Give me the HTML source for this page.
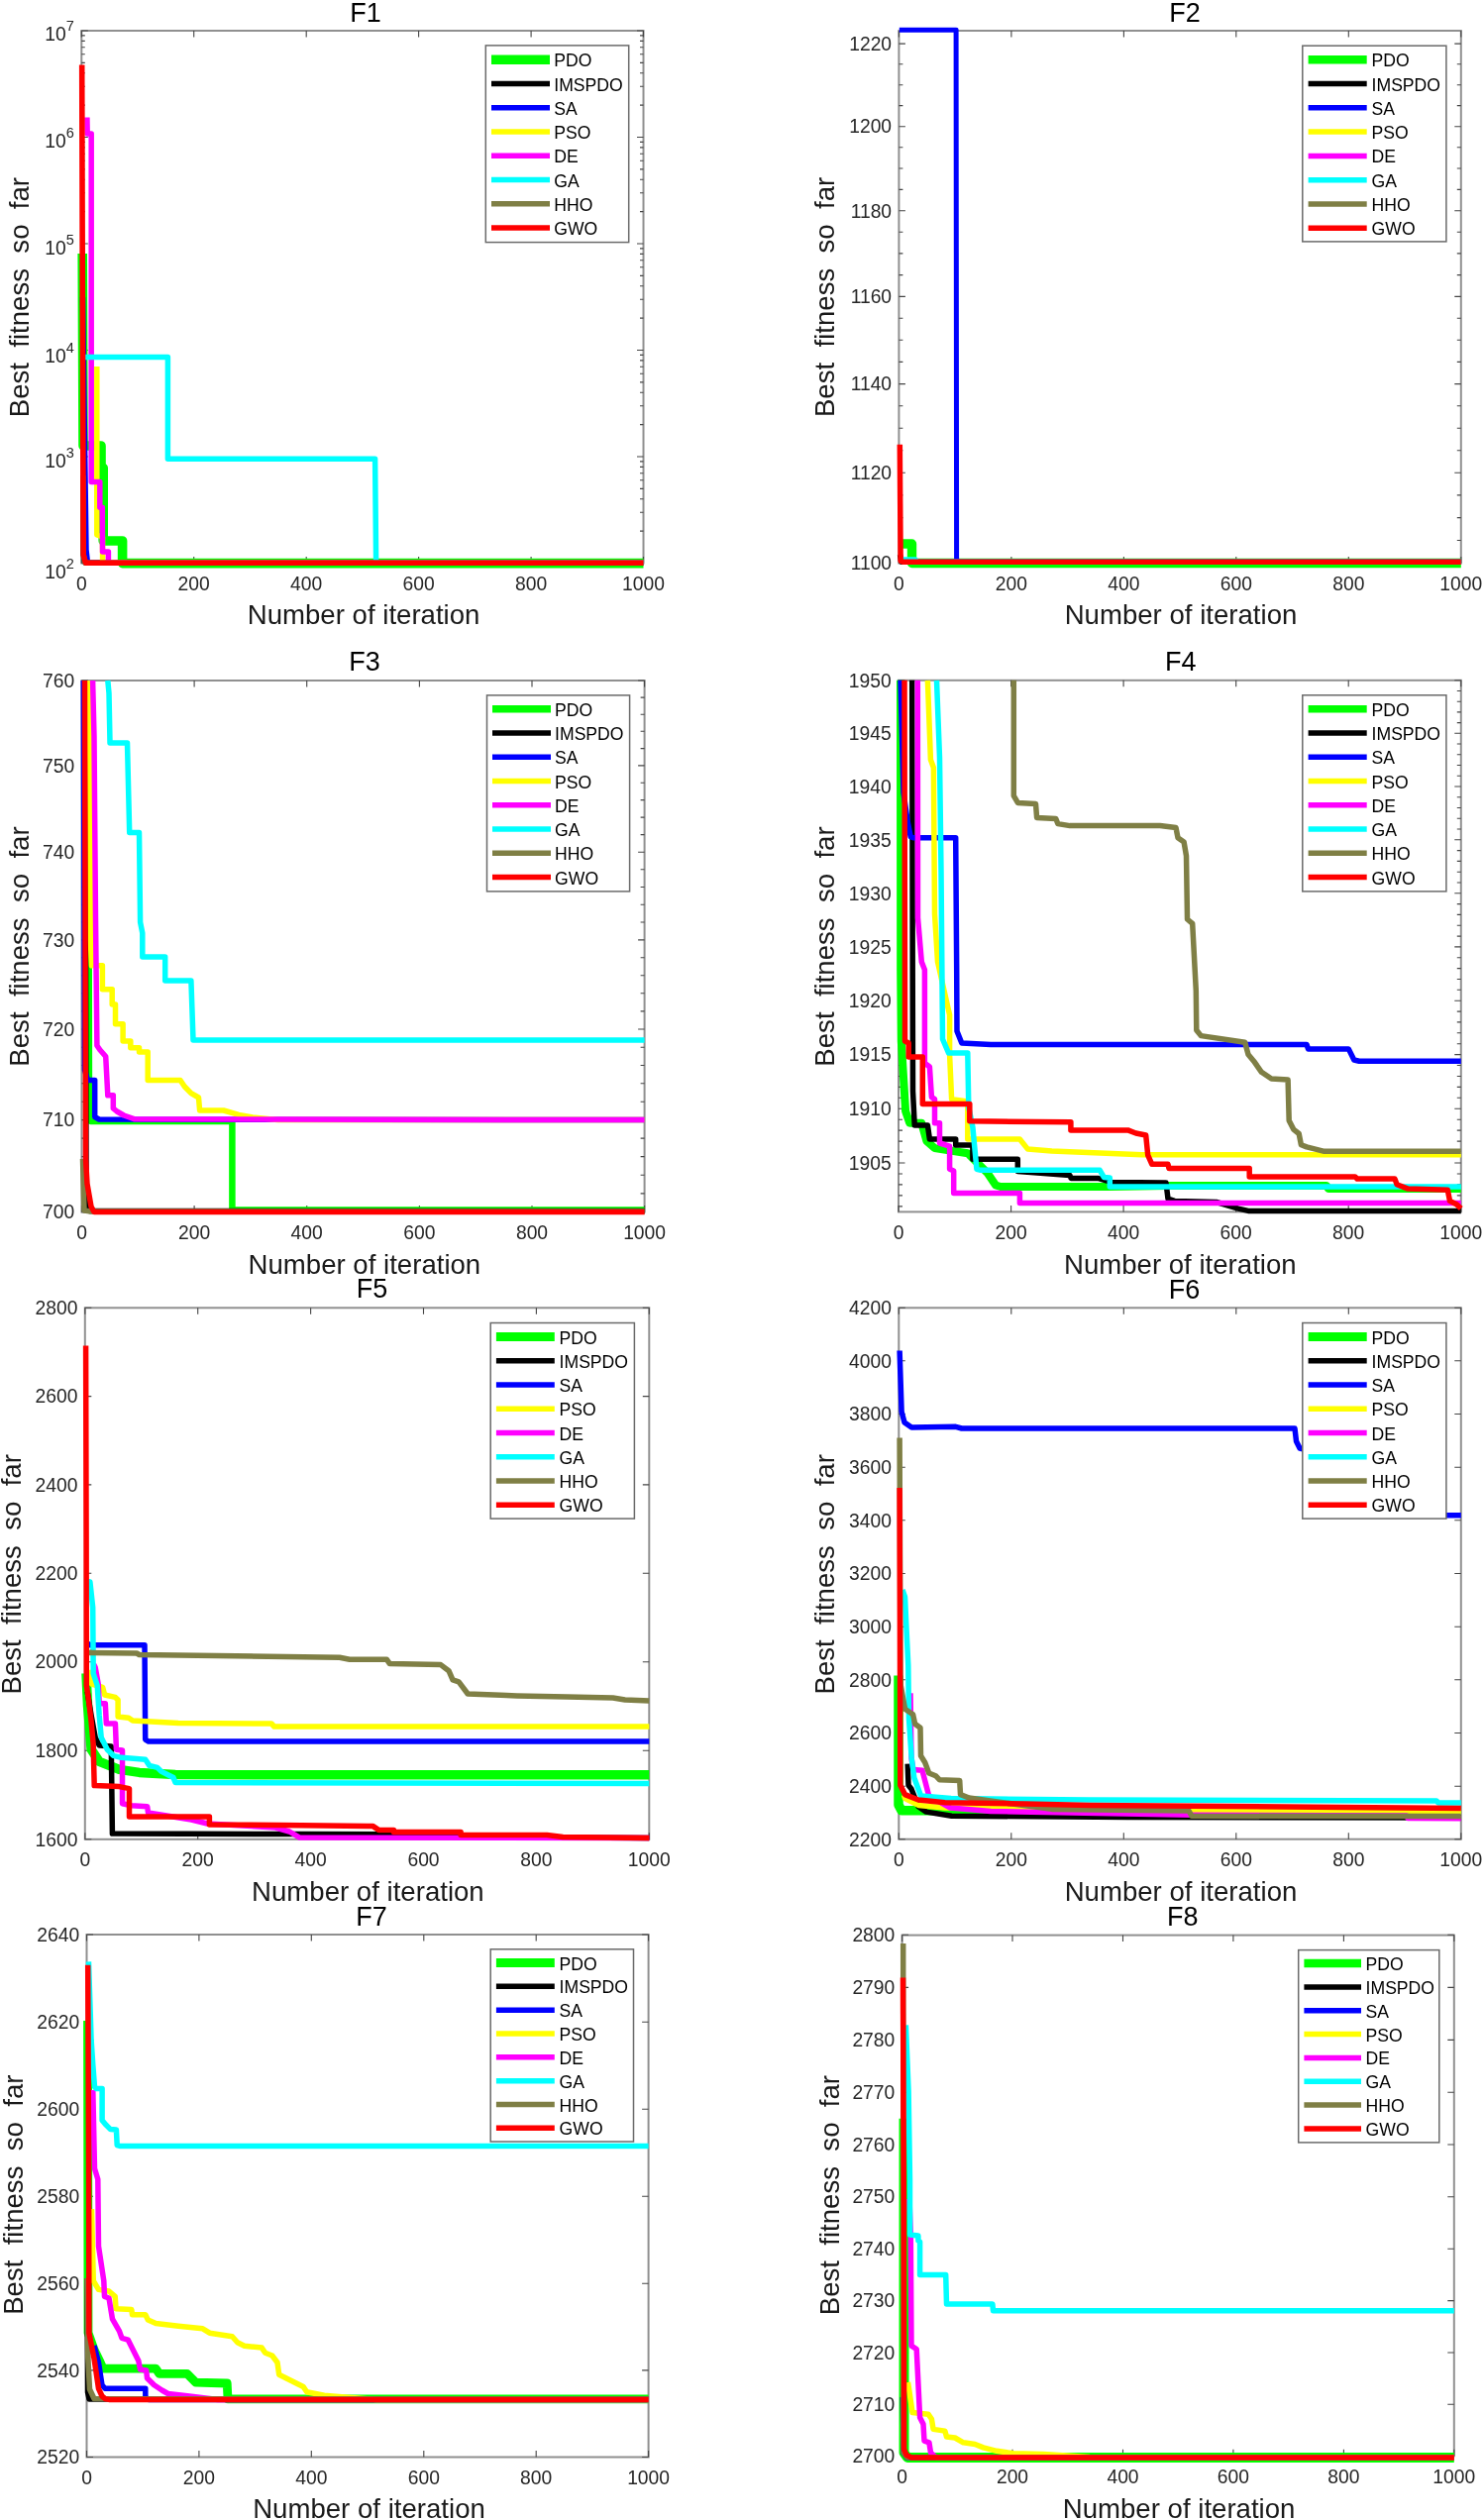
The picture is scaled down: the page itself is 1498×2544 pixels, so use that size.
<!DOCTYPE html>
<html><head><meta charset="utf-8"><title>Convergence curves</title>
<style>
html,body{margin:0;padding:0;background:#fff;width:1498px;height:2544px;overflow:hidden}
svg{display:block;filter:blur(0.4px)}
text{font-family:"Liberation Sans",sans-serif}
.tk{font-size:19.3px;fill:#262626}
.sup{font-size:14.5px}
.lg{font-size:17.6px;fill:#000}
.ti{font-size:27px;fill:#000}
.lb{font-size:27.6px;fill:#1a1a1a}
</style></head><body>
<svg xmlns="http://www.w3.org/2000/svg" width="1498" height="2544" viewBox="0 0 1498 2544">
<rect width="1498" height="2544" fill="#fff"/>
<g><rect x="82.3" y="31" width="567.2" height="537.5" fill="none" stroke="#909090" stroke-width="2"/>
<path d="M82.3 568.5v-6.5M82.3 31v6.5M195.7 568.5v-6.5M195.7 31v6.5M309.2 568.5v-6.5M309.2 31v6.5M422.6 568.5v-6.5M422.6 31v6.5M536.1 568.5v-6.5M536.1 31v6.5M649.5 568.5v-6.5M649.5 31v6.5M82.3 568.5h6.5M649.5 568.5h-6.5M82.3 536.1h3.5M649.5 536.1h-3.5M82.3 517.2h3.5M649.5 517.2h-3.5M82.3 503.8h3.5M649.5 503.8h-3.5M82.3 493.4h3.5M649.5 493.4h-3.5M82.3 484.8h3.5M649.5 484.8h-3.5M82.3 477.7h3.5M649.5 477.7h-3.5M82.3 471.4h3.5M649.5 471.4h-3.5M82.3 465.9h3.5M649.5 465.9h-3.5M82.3 461h6.5M649.5 461h-6.5M82.3 428.6h3.5M649.5 428.6h-3.5M82.3 409.7h3.5M649.5 409.7h-3.5M82.3 396.3h3.5M649.5 396.3h-3.5M82.3 385.9h3.5M649.5 385.9h-3.5M82.3 377.3h3.5M649.5 377.3h-3.5M82.3 370.2h3.5M649.5 370.2h-3.5M82.3 363.9h3.5M649.5 363.9h-3.5M82.3 358.4h3.5M649.5 358.4h-3.5M82.3 353.5h6.5M649.5 353.5h-6.5M82.3 321.1h3.5M649.5 321.1h-3.5M82.3 302.2h3.5M649.5 302.2h-3.5M82.3 288.8h3.5M649.5 288.8h-3.5M82.3 278.4h3.5M649.5 278.4h-3.5M82.3 269.8h3.5M649.5 269.8h-3.5M82.3 262.7h3.5M649.5 262.7h-3.5M82.3 256.4h3.5M649.5 256.4h-3.5M82.3 250.9h3.5M649.5 250.9h-3.5M82.3 246h6.5M649.5 246h-6.5M82.3 213.6h3.5M649.5 213.6h-3.5M82.3 194.7h3.5M649.5 194.7h-3.5M82.3 181.3h3.5M649.5 181.3h-3.5M82.3 170.9h3.5M649.5 170.9h-3.5M82.3 162.3h3.5M649.5 162.3h-3.5M82.3 155.2h3.5M649.5 155.2h-3.5M82.3 148.9h3.5M649.5 148.9h-3.5M82.3 143.4h3.5M649.5 143.4h-3.5M82.3 138.5h6.5M649.5 138.5h-6.5M82.3 106.1h3.5M649.5 106.1h-3.5M82.3 87.2h3.5M649.5 87.2h-3.5M82.3 73.8h3.5M649.5 73.8h-3.5M82.3 63.4h3.5M649.5 63.4h-3.5M82.3 54.8h3.5M649.5 54.8h-3.5M82.3 47.7h3.5M649.5 47.7h-3.5M82.3 41.4h3.5M649.5 41.4h-3.5M82.3 35.9h3.5M649.5 35.9h-3.5M82.3 31h6.5M649.5 31h-6.5" stroke="#454545" stroke-width="1.1" fill="none"/>
<path d="M83.2 256 84 450 102 450 102 472.3 104.2 472.3 104.2 546 123.6 546 123.6 568.6 649.5 568.6" stroke="#00ff00" stroke-width="9.6" fill="none" stroke-linejoin="round"/>
<path d="M83.8 480 84.2 560 86 568.2 649.5 568.2" stroke="#000000" stroke-width="5.5" fill="none" stroke-linejoin="round"/>
<path d="M83.5 300 87 555 88.5 568.2 649.5 568.2" stroke="#0000ff" stroke-width="5.5" fill="none" stroke-linejoin="round"/>
<path d="M97.8 370 97.8 540 103.5 542 103.6 568 649.5 568.2" stroke="#ffff00" stroke-width="5.5" fill="none" stroke-linejoin="round"/>
<path d="M87.9 118.5 88.2 135 92.2 135 92.2 486.4 100.8 486.4 100.8 512.3 103.3 512.3 103.5 557.1 109.4 557.1 109.4 568.3 649.5 568.3" stroke="#ff00ff" stroke-width="5.5" fill="none" stroke-linejoin="round"/>
<path d="M86 360.6 169.4 360.6 169.4 463.3 378.6 463.3 379.6 566 381 568.2 649.5 568.2" stroke="#00ffff" stroke-width="5.5" fill="none" stroke-linejoin="round"/>
<path d="M83.8 480 84.2 560 86 568.2 649.5 568.2" stroke="#7f7f45" stroke-width="5.5" fill="none" stroke-linejoin="round"/>
<path d="M82.7 65.4 83.3 300 84.2 560 86.5 568.2 649.5 568.2" stroke="#ff0000" stroke-width="5.6" fill="none" stroke-linejoin="round"/>
<rect x="490.3" y="45.9" width="144.4" height="198.7" fill="#fff" stroke="#6a6a6a" stroke-width="1.5"/>
<path d="M496 60.2H555" stroke="#00ff00" stroke-width="9.5"/>
<text x="559.3" y="67.2" class="lg">PDO</text>
<path d="M496 84.5H555" stroke="#000000" stroke-width="5.5"/>
<text x="559.3" y="91.5" class="lg">IMSPDO</text>
<path d="M496 108.7H555" stroke="#0000ff" stroke-width="5.5"/>
<text x="559.3" y="115.7" class="lg">SA</text>
<path d="M496 133H555" stroke="#ffff00" stroke-width="5.5"/>
<text x="559.3" y="140" class="lg">PSO</text>
<path d="M496 157.3H555" stroke="#ff00ff" stroke-width="5.5"/>
<text x="559.3" y="164.3" class="lg">DE</text>
<path d="M496 181.6H555" stroke="#00ffff" stroke-width="5.5"/>
<text x="559.3" y="188.6" class="lg">GA</text>
<path d="M496 205.8H555" stroke="#7f7f45" stroke-width="5.5"/>
<text x="559.3" y="212.8" class="lg">HHO</text>
<path d="M496 230.1H555" stroke="#ff0000" stroke-width="5.5"/>
<text x="559.3" y="237.1" class="lg">GWO</text>
<text x="82.3" y="595.8" class="tk" text-anchor="middle">0</text>
<text x="195.7" y="595.8" class="tk" text-anchor="middle">200</text>
<text x="309.2" y="595.8" class="tk" text-anchor="middle">400</text>
<text x="422.6" y="595.8" class="tk" text-anchor="middle">600</text>
<text x="536.1" y="595.8" class="tk" text-anchor="middle">800</text>
<text x="649.5" y="595.8" class="tk" text-anchor="middle">1000</text>
<text x="74.8" y="584.1" class="tk" text-anchor="end">10<tspan class="sup" dy="-10">2</tspan></text>
<text x="74.8" y="471.6" class="tk" text-anchor="end">10<tspan class="sup" dy="-10">3</tspan></text>
<text x="74.8" y="366" class="tk" text-anchor="end">10<tspan class="sup" dy="-10">4</tspan></text>
<text x="74.8" y="256.7" class="tk" text-anchor="end">10<tspan class="sup" dy="-10">5</tspan></text>
<text x="74.8" y="149" class="tk" text-anchor="end">10<tspan class="sup" dy="-10">6</tspan></text>
<text x="74.8" y="40.7" class="tk" text-anchor="end">10<tspan class="sup" dy="-10">7</tspan></text>
<text x="369" y="21.5" class="ti" text-anchor="middle">F1</text>
<text x="367.1" y="630" class="lb" text-anchor="middle">Number of iteration</text>
<text transform="translate(19.7 300.1) rotate(-90)" x="0" y="0" class="lb" text-anchor="middle" dy="9.5">Best&#160; fitness&#160; so&#160; far</text></g>
<g><rect x="907.4" y="31" width="567.4" height="537.5" fill="none" stroke="#909090" stroke-width="2"/>
<path d="M907.4 568.5v-6.5M907.4 31v6.5M1020.9 568.5v-6.5M1020.9 31v6.5M1134.4 568.5v-6.5M1134.4 31v6.5M1247.8 568.5v-6.5M1247.8 31v6.5M1361.3 568.5v-6.5M1361.3 31v6.5M1474.8 568.5v-6.5M1474.8 31v6.5M907.4 568.4h6.5M1474.8 568.4h-6.5M907.4 477.2h6.5M1474.8 477.2h-6.5M907.4 387.6h6.5M1474.8 387.6h-6.5M907.4 299.4h6.5M1474.8 299.4h-6.5M907.4 212.8h6.5M1474.8 212.8h-6.5M907.4 127.7h6.5M1474.8 127.7h-6.5M907.4 44.1h6.5M1474.8 44.1h-6.5M907.4 545.5h4M1474.8 545.5h-4M907.4 522.6h4M1474.8 522.6h-4M907.4 499.9h4M1474.8 499.9h-4M907.4 454.7h4M1474.8 454.7h-4M907.4 432.2h4M1474.8 432.2h-4M907.4 409.8h4M1474.8 409.8h-4M907.4 365.4h4M1474.8 365.4h-4M907.4 343.3h4M1474.8 343.3h-4M907.4 321.3h4M1474.8 321.3h-4M907.4 277.6h4M1474.8 277.6h-4M907.4 255.9h4M1474.8 255.9h-4M907.4 234.3h4M1474.8 234.3h-4M907.4 191.4h4M1474.8 191.4h-4M907.4 170h4M1474.8 170h-4M907.4 148.8h4M1474.8 148.8h-4M907.4 106.6h4M1474.8 106.6h-4M907.4 85.7h4M1474.8 85.7h-4M907.4 64.8h4M1474.8 64.8h-4" stroke="#454545" stroke-width="1.1" fill="none"/>
<path d="M909 549 920.5 549 920.5 568.5 1474.8 568.5" stroke="#00ff00" stroke-width="9.4" fill="none" stroke-linejoin="round"/>
<path d="M908.5 560 910 567.3 1474.8 567.3" stroke="#000000" stroke-width="5.5" fill="none" stroke-linejoin="round"/>
<path d="M907.8 30.2 965.1 30.2 965.6 564 967 567.3 1474.8 567.3" stroke="#0000ff" stroke-width="5.0" fill="none" stroke-linejoin="round"/>
<path d="M910 565 924 565 926 567.3 1474.8 567.3" stroke="#00ffff" stroke-width="5.5" fill="none" stroke-linejoin="round"/>
<path d="M908.3 448.7 909.1 566.3 912 567.3 1474.8 567.3" stroke="#ff0000" stroke-width="5.5" fill="none" stroke-linejoin="round"/>
<rect x="1314.8" y="46.2" width="145.1" height="197.7" fill="#fff" stroke="#6a6a6a" stroke-width="1.5"/>
<path d="M1320.6 60.2H1379.7" stroke="#00ff00" stroke-width="8.5"/>
<text x="1384.6" y="67.2" class="lg">PDO</text>
<path d="M1320.6 84.5H1379.7" stroke="#000000" stroke-width="5.5"/>
<text x="1384.6" y="91.5" class="lg">IMSPDO</text>
<path d="M1320.6 108.8H1379.7" stroke="#0000ff" stroke-width="5.5"/>
<text x="1384.6" y="115.8" class="lg">SA</text>
<path d="M1320.6 133.1H1379.7" stroke="#ffff00" stroke-width="5.5"/>
<text x="1384.6" y="140.1" class="lg">PSO</text>
<path d="M1320.6 157.4H1379.7" stroke="#ff00ff" stroke-width="5.5"/>
<text x="1384.6" y="164.4" class="lg">DE</text>
<path d="M1320.6 181.7H1379.7" stroke="#00ffff" stroke-width="5.5"/>
<text x="1384.6" y="188.7" class="lg">GA</text>
<path d="M1320.6 206H1379.7" stroke="#7f7f45" stroke-width="5.5"/>
<text x="1384.6" y="213" class="lg">HHO</text>
<path d="M1320.6 230.3H1379.7" stroke="#ff0000" stroke-width="5.5"/>
<text x="1384.6" y="237.3" class="lg">GWO</text>
<text x="907.4" y="595.8" class="tk" text-anchor="middle">0</text>
<text x="1020.9" y="595.8" class="tk" text-anchor="middle">200</text>
<text x="1134.4" y="595.8" class="tk" text-anchor="middle">400</text>
<text x="1247.8" y="595.8" class="tk" text-anchor="middle">600</text>
<text x="1361.3" y="595.8" class="tk" text-anchor="middle">800</text>
<text x="1474.8" y="595.8" class="tk" text-anchor="middle">1000</text>
<text x="900.1" y="575.1" class="tk" text-anchor="end">1100</text>
<text x="900.1" y="483.9" class="tk" text-anchor="end">1120</text>
<text x="900.1" y="394.3" class="tk" text-anchor="end">1140</text>
<text x="900.1" y="306.1" class="tk" text-anchor="end">1160</text>
<text x="900.1" y="219.5" class="tk" text-anchor="end">1180</text>
<text x="900.1" y="134.4" class="tk" text-anchor="end">1200</text>
<text x="900.1" y="50.8" class="tk" text-anchor="end">1220</text>
<text x="1196" y="21.5" class="ti" text-anchor="middle">F2</text>
<text x="1192" y="629.9" class="lb" text-anchor="middle">Number of iteration</text>
<text transform="translate(832.8 299.9) rotate(-90)" x="0" y="0" class="lb" text-anchor="middle" dy="9.5">Best&#160; fitness&#160; so&#160; far</text></g>
<g><rect x="82.5" y="687" width="568.1" height="536.6" fill="none" stroke="#909090" stroke-width="2"/>
<path d="M82.5 1223.6v-6.5M82.5 687v6.5M196.1 1223.6v-6.5M196.1 687v6.5M309.7 1223.6v-6.5M309.7 687v6.5M423.4 1223.6v-6.5M423.4 687v6.5M537 1223.6v-6.5M537 687v6.5M650.6 1223.6v-6.5M650.6 687v6.5M82.5 1223.6h6.5M650.6 1223.6h-6.5M82.5 1130.6h6.5M650.6 1130.6h-6.5M82.5 1039h6.5M650.6 1039h-6.5M82.5 948.9h6.5M650.6 948.9h-6.5M82.5 860.2h6.5M650.6 860.2h-6.5M82.5 772.9h6.5M650.6 772.9h-6.5M82.5 687h6.5M650.6 687h-6.5M82.5 1204.9h4M650.6 1204.9h-4M82.5 1186.2h4M650.6 1186.2h-4M82.5 1167.6h4M650.6 1167.6h-4M82.5 1149.1h4M650.6 1149.1h-4M82.5 1112.2h4M650.6 1112.2h-4M82.5 1093.8h4M650.6 1093.8h-4M82.5 1075.5h4M650.6 1075.5h-4M82.5 1057.2h4M650.6 1057.2h-4M82.5 1020.9h4M650.6 1020.9h-4M82.5 1002.8h4M650.6 1002.8h-4M82.5 984.8h4M650.6 984.8h-4M82.5 966.8h4M650.6 966.8h-4M82.5 931h4M650.6 931h-4M82.5 913.2h4M650.6 913.2h-4M82.5 895.5h4M650.6 895.5h-4M82.5 877.8h4M650.6 877.8h-4M82.5 842.6h4M650.6 842.6h-4M82.5 825.1h4M650.6 825.1h-4M82.5 807.6h4M650.6 807.6h-4M82.5 790.2h4M650.6 790.2h-4M82.5 755.6h4M650.6 755.6h-4M82.5 738.3h4M650.6 738.3h-4M82.5 721.2h4M650.6 721.2h-4M82.5 704.1h4M650.6 704.1h-4" stroke="#454545" stroke-width="1.1" fill="none"/>
<path d="M89.2 687 90 1130 91.4 1132 234.4 1132 234.4 1221.5 650.6 1221.5" stroke="#00ff00" stroke-width="6.5" fill="none" stroke-linejoin="round"/>
<path d="M86 687 87 1200 90 1222.5 650.6 1222.5" stroke="#000000" stroke-width="5.5" fill="none" stroke-linejoin="round"/>
<path d="M84.3 687 85.5 1080 88.5 1090.5 95.7 1090.5 95.7 1127.6 100 1130 650.6 1130.6" stroke="#0000ff" stroke-width="5.5" fill="none" stroke-linejoin="round"/>
<path d="M90.5 687 91.4 950 92.5 974.8 103.4 974.8 103.4 998.8 113.2 998.8 113.2 1014 116.5 1014 116.5 1033.7 124.1 1033.7 124.1 1051 131.8 1051 131.8 1057.7 140.5 1057.7 140.5 1062 149.2 1062 149.2 1090.5 182 1090.5 186.4 1097 192.9 1103.6 200.5 1108 201.6 1121 225.7 1121 241 1125.4 255 1128 280 1130.6 650.6 1130.6" stroke="#ffff00" stroke-width="5.5" fill="none" stroke-linejoin="round"/>
<path d="M93.6 687 95 743.3 96.5 926.7 97.9 1055.5 101 1060 106.7 1066.5 108.8 1105.8 114.3 1105.8 114.3 1118.9 118 1122 125 1126 136.1 1129.8 650.6 1130.6" stroke="#ff00ff" stroke-width="5.5" fill="none" stroke-linejoin="round"/>
<path d="M108.8 687 110 699.7 111 749.9 128.5 749.9 130.7 840.5 140.5 840.5 141.6 931 143.8 942 143.8 966 166.7 966 166.7 990 192.9 990 195 1049.9 650.6 1049.9" stroke="#00ffff" stroke-width="5.5" fill="none" stroke-linejoin="round"/>
<path d="M83.5 1170 85 1222 92 1223 650.6 1223" stroke="#7f7f45" stroke-width="5.5" fill="none" stroke-linejoin="round"/>
<path d="M85.5 687 86.5 1170 88 1195 92 1218 95 1223.5 650.6 1223.5" stroke="#ff0000" stroke-width="5.5" fill="none" stroke-linejoin="round"/>
<rect x="491.5" y="701.9" width="144.1" height="198" fill="#fff" stroke="#6a6a6a" stroke-width="1.5"/>
<path d="M497 715.8H556" stroke="#00ff00" stroke-width="7.5"/>
<text x="560.1" y="722.8" class="lg">PDO</text>
<path d="M497 740H556" stroke="#000000" stroke-width="5.5"/>
<text x="560.1" y="747" class="lg">IMSPDO</text>
<path d="M497 764.3H556" stroke="#0000ff" stroke-width="5.5"/>
<text x="560.1" y="771.3" class="lg">SA</text>
<path d="M497 788.5H556" stroke="#ffff00" stroke-width="5.5"/>
<text x="560.1" y="795.5" class="lg">PSO</text>
<path d="M497 812.8H556" stroke="#ff00ff" stroke-width="5.5"/>
<text x="560.1" y="819.8" class="lg">DE</text>
<path d="M497 837H556" stroke="#00ffff" stroke-width="5.5"/>
<text x="560.1" y="844" class="lg">GA</text>
<path d="M497 861.2H556" stroke="#7f7f45" stroke-width="5.5"/>
<text x="560.1" y="868.2" class="lg">HHO</text>
<path d="M497 885.5H556" stroke="#ff0000" stroke-width="5.5"/>
<text x="560.1" y="892.5" class="lg">GWO</text>
<text x="82.5" y="1250.9" class="tk" text-anchor="middle">0</text>
<text x="196.1" y="1250.9" class="tk" text-anchor="middle">200</text>
<text x="309.7" y="1250.9" class="tk" text-anchor="middle">400</text>
<text x="423.4" y="1250.9" class="tk" text-anchor="middle">600</text>
<text x="537" y="1250.9" class="tk" text-anchor="middle">800</text>
<text x="650.6" y="1250.9" class="tk" text-anchor="middle">1000</text>
<text x="75.2" y="1230.3" class="tk" text-anchor="end">700</text>
<text x="75.2" y="1137.3" class="tk" text-anchor="end">710</text>
<text x="75.2" y="1045.7" class="tk" text-anchor="end">720</text>
<text x="75.2" y="955.6" class="tk" text-anchor="end">730</text>
<text x="75.2" y="866.9" class="tk" text-anchor="end">740</text>
<text x="75.2" y="779.6" class="tk" text-anchor="end">750</text>
<text x="75.2" y="693.7" class="tk" text-anchor="end">760</text>
<text x="368.1" y="677.3" class="ti" text-anchor="middle">F3</text>
<text x="367.9" y="1286.4" class="lb" text-anchor="middle">Number of iteration</text>
<text transform="translate(19.9 955.5) rotate(-90)" x="0" y="0" class="lb" text-anchor="middle" dy="9.5">Best&#160; fitness&#160; so&#160; far</text></g>
<g><rect x="907" y="686.8" width="567.8" height="536.6" fill="none" stroke="#909090" stroke-width="2"/>
<path d="M907 1223.4v-6.5M907 686.8v6.5M1020.6 1223.4v-6.5M1020.6 686.8v6.5M1134.1 1223.4v-6.5M1134.1 686.8v6.5M1247.7 1223.4v-6.5M1247.7 686.8v6.5M1361.2 1223.4v-6.5M1361.2 686.8v6.5M1474.8 1223.4v-6.5M1474.8 686.8v6.5M907 1174h6.5M1474.8 1174h-6.5M907 1119.2h6.5M1474.8 1119.2h-6.5M907 1064.6h6.5M1474.8 1064.6h-6.5M907 1010.2h6.5M1474.8 1010.2h-6.5M907 955.9h6.5M1474.8 955.9h-6.5M907 901.8h6.5M1474.8 901.8h-6.5M907 847.8h6.5M1474.8 847.8h-6.5M907 794h6.5M1474.8 794h-6.5M907 740.3h6.5M1474.8 740.3h-6.5M907 686.8h6.5M1474.8 686.8h-6.5M907 1217.9h4M1474.8 1217.9h-4M907 1206.9h4M1474.8 1206.9h-4M907 1195.9h4M1474.8 1195.9h-4M907 1185h4M1474.8 1185h-4M907 1163h4M1474.8 1163h-4M907 1152.1h4M1474.8 1152.1h-4M907 1141.1h4M1474.8 1141.1h-4M907 1130.2h4M1474.8 1130.2h-4M907 1108.3h4M1474.8 1108.3h-4M907 1097.4h4M1474.8 1097.4h-4M907 1086.5h4M1474.8 1086.5h-4M907 1075.5h4M1474.8 1075.5h-4M907 1053.7h4M1474.8 1053.7h-4M907 1042.8h4M1474.8 1042.8h-4M907 1031.9h4M1474.8 1031.9h-4M907 1021.1h4M1474.8 1021.1h-4M907 999.3h4M1474.8 999.3h-4M907 988.5h4M1474.8 988.5h-4M907 977.6h4M1474.8 977.6h-4M907 966.7h4M1474.8 966.7h-4M907 945.1h4M1474.8 945.1h-4M907 934.2h4M1474.8 934.2h-4M907 923.4h4M1474.8 923.4h-4M907 912.6h4M1474.8 912.6h-4M907 891h4M1474.8 891h-4M907 880.2h4M1474.8 880.2h-4M907 869.4h4M1474.8 869.4h-4M907 858.6h4M1474.8 858.6h-4M907 837h4M1474.8 837h-4M907 826.2h4M1474.8 826.2h-4M907 815.5h4M1474.8 815.5h-4M907 804.7h4M1474.8 804.7h-4M907 783.2h4M1474.8 783.2h-4M907 772.5h4M1474.8 772.5h-4M907 761.8h4M1474.8 761.8h-4M907 751h4M1474.8 751h-4M907 729.6h4M1474.8 729.6h-4M907 718.9h4M1474.8 718.9h-4M907 708.2h4M1474.8 708.2h-4M907 697.5h4M1474.8 697.5h-4" stroke="#454545" stroke-width="1.1" fill="none"/>
<path d="M909 686.8 909.2 980 909.8 1051 914.1 1121.7 918.2 1133.8 930.3 1133.8 935.4 1152 943.5 1159.1 976.8 1164.2 997 1184.4 1005.1 1196.5 1010 1198 1118.3 1198 1179 1197 1339 1197 1341 1200 1474.8 1200" stroke="#00ff00" stroke-width="8.0" fill="none" stroke-linejoin="round"/>
<path d="M920.7 686.8 921.2 980 921.5 1101.5 923.2 1135.9 936.4 1135.9 938.4 1150 964.7 1150 964.7 1156 981.9 1156 981.9 1170.2 1027.3 1170.2 1027.3 1182.4 1079.9 1186.4 1081 1189.4 1108.2 1189.4 1122.4 1193.5 1177 1194 1179 1210.1 1185.6 1212.4 1227.8 1213.5 1250 1220.1 1260 1222.4 1474.8 1222.4" stroke="#000000" stroke-width="5.5" fill="none" stroke-linejoin="round"/>
<path d="M909 686.8 912 800 916.2 829.6 919.2 844.7 922 845.8 964.7 845.8 965.7 980 966 1040.9 970.8 1053 1000 1054.5 1319 1054.5 1320.5 1058.9 1361.3 1058.9 1366.8 1070 1372 1071.2 1474.8 1071.2" stroke="#0000ff" stroke-width="5.5" fill="none" stroke-linejoin="round"/>
<path d="M936.4 686.8 939.4 766.9 942.4 775 943.5 922.6 946.5 971 958.6 1024.7 958.6 1065 960.6 1109.6 976.8 1112 976.8 1150 1029.4 1150 1037.5 1160.1 1061.7 1162.1 1152.7 1165.7 1474.8 1165.7" stroke="#ffff00" stroke-width="5.5" fill="none" stroke-linejoin="round"/>
<path d="M926.3 686.8 926.5 926.6 930.3 971 933.4 979 933.4 1073.2 938.4 1077 940.4 1107.6 943.5 1109.6 943.5 1133.8 948.5 1133.8 948.5 1154 958.6 1157.1 958.6 1180.3 962.7 1182 962.7 1204.6 1029.4 1204.6 1029.4 1214.6 1474.8 1214.6" stroke="#ff00ff" stroke-width="5.5" fill="none" stroke-linejoin="round"/>
<path d="M945.5 686.8 948.5 765 950 880 951.5 1049 957.6 1063.1 976.8 1063.1 977.8 1117.7 981.9 1137.9 985.9 1180.3 990 1181.3 1110.2 1181.3 1114.3 1188.4 1120.3 1189 1120.3 1198 1474.8 1198" stroke="#00ffff" stroke-width="5.5" fill="none" stroke-linejoin="round"/>
<path d="M1023.3 686.8 1023.3 803.3 1027.4 810.4 1045.5 811.4 1046.6 825.5 1065.8 826.6 1067.8 831.6 1080 833.6 1170.9 833.6 1187 835.6 1189 845.8 1195.1 850 1197.5 864 1198.5 928 1203.7 932.4 1207.3 1000 1207.8 1040 1212.3 1045.6 1256.7 1052.3 1260 1064.5 1265.6 1071.2 1273.4 1082.3 1283.4 1089 1300.1 1090 1301.2 1131.2 1305.7 1140.1 1311.2 1144.5 1313.4 1155.7 1319 1157.9 1336.8 1162.3 1474.8 1162.3" stroke="#7f7f45" stroke-width="5.5" fill="none" stroke-linejoin="round"/>
<path d="M913 686.8 913.5 1051 917.2 1053 917.2 1067.1 931.3 1067.1 931.3 1114.6 978.8 1114.6 978.8 1131.8 1080.9 1132.8 1080.9 1140.9 1138.5 1140.9 1146.6 1144 1156.7 1146 1158.7 1166.2 1162.8 1175.3 1179 1175.3 1180 1179.6 1261.2 1179.6 1261.2 1187.9 1367.9 1187.9 1370 1190.1 1408 1190.1 1410 1195.7 1421.3 1200.1 1461.3 1201.2 1463.5 1212.4 1470.2 1215.7 1474.8 1220.1" stroke="#ff0000" stroke-width="5.5" fill="none" stroke-linejoin="round"/>
<rect x="1314.8" y="701.8" width="145.1" height="198.1" fill="#fff" stroke="#6a6a6a" stroke-width="1.5"/>
<path d="M1320.6 715.8H1379.7" stroke="#00ff00" stroke-width="7.5"/>
<text x="1384.6" y="722.8" class="lg">PDO</text>
<path d="M1320.6 740H1379.7" stroke="#000000" stroke-width="5.5"/>
<text x="1384.6" y="747" class="lg">IMSPDO</text>
<path d="M1320.6 764.3H1379.7" stroke="#0000ff" stroke-width="5.5"/>
<text x="1384.6" y="771.3" class="lg">SA</text>
<path d="M1320.6 788.5H1379.7" stroke="#ffff00" stroke-width="5.5"/>
<text x="1384.6" y="795.5" class="lg">PSO</text>
<path d="M1320.6 812.8H1379.7" stroke="#ff00ff" stroke-width="5.5"/>
<text x="1384.6" y="819.8" class="lg">DE</text>
<path d="M1320.6 837H1379.7" stroke="#00ffff" stroke-width="5.5"/>
<text x="1384.6" y="844" class="lg">GA</text>
<path d="M1320.6 861.2H1379.7" stroke="#7f7f45" stroke-width="5.5"/>
<text x="1384.6" y="868.2" class="lg">HHO</text>
<path d="M1320.6 885.5H1379.7" stroke="#ff0000" stroke-width="5.5"/>
<text x="1384.6" y="892.5" class="lg">GWO</text>
<text x="907" y="1250.7" class="tk" text-anchor="middle">0</text>
<text x="1020.6" y="1250.7" class="tk" text-anchor="middle">200</text>
<text x="1134.1" y="1250.7" class="tk" text-anchor="middle">400</text>
<text x="1247.7" y="1250.7" class="tk" text-anchor="middle">600</text>
<text x="1361.2" y="1250.7" class="tk" text-anchor="middle">800</text>
<text x="1474.8" y="1250.7" class="tk" text-anchor="middle">1000</text>
<text x="899.7" y="1180.7" class="tk" text-anchor="end">1905</text>
<text x="899.7" y="1125.9" class="tk" text-anchor="end">1910</text>
<text x="899.7" y="1071.3" class="tk" text-anchor="end">1915</text>
<text x="899.7" y="1016.9" class="tk" text-anchor="end">1920</text>
<text x="899.7" y="962.6" class="tk" text-anchor="end">1925</text>
<text x="899.7" y="908.5" class="tk" text-anchor="end">1930</text>
<text x="899.7" y="854.5" class="tk" text-anchor="end">1935</text>
<text x="899.7" y="800.7" class="tk" text-anchor="end">1940</text>
<text x="899.7" y="747" class="tk" text-anchor="end">1945</text>
<text x="899.7" y="693.5" class="tk" text-anchor="end">1950</text>
<text x="1191.7" y="677.3" class="ti" text-anchor="middle">F4</text>
<text x="1191.3" y="1285.8" class="lb" text-anchor="middle">Number of iteration</text>
<text transform="translate(832.8 955.5) rotate(-90)" x="0" y="0" class="lb" text-anchor="middle" dy="9.5">Best&#160; fitness&#160; so&#160; far</text></g>
<g><rect x="85.8" y="1320.3" width="569.5" height="536.5" fill="none" stroke="#909090" stroke-width="2"/>
<path d="M85.8 1856.8v-6.5M85.8 1320.3v6.5M199.7 1856.8v-6.5M199.7 1320.3v6.5M313.6 1856.8v-6.5M313.6 1320.3v6.5M427.5 1856.8v-6.5M427.5 1320.3v6.5M541.4 1856.8v-6.5M541.4 1320.3v6.5M655.3 1856.8v-6.5M655.3 1320.3v6.5M85.8 1856.8h6.5M655.3 1856.8h-6.5M85.8 1767.2h6.5M655.3 1767.2h-6.5M85.8 1677.7h6.5M655.3 1677.7h-6.5M85.8 1588.3h6.5M655.3 1588.3h-6.5M85.8 1498.9h6.5M655.3 1498.9h-6.5M85.8 1409.6h6.5M655.3 1409.6h-6.5M85.8 1320.3h6.5M655.3 1320.3h-6.5" stroke="#454545" stroke-width="1.1" fill="none"/>
<path d="M87 1689.4 88.5 1721.7 92.1 1766.2 100.2 1778.3 120.4 1786.4 140.6 1789.4 177 1791.6 655.3 1791.8" stroke="#00ff00" stroke-width="9.5" fill="none" stroke-linejoin="round"/>
<path d="M88.1 1707.6 92.1 1731.8 96.2 1754 100.2 1762 112.3 1763 113.4 1851.1 116 1851.1 302.4 1851.5 397 1851.8 470 1853.5 570 1855 655.3 1855.5" stroke="#000000" stroke-width="5.5" fill="none" stroke-linejoin="round"/>
<path d="M88.5 1659 90.5 1660.7 146 1660.7 146.7 1756.1 150 1758.1 655.3 1758.1" stroke="#0000ff" stroke-width="5.5" fill="none" stroke-linejoin="round"/>
<path d="M89.5 1686 92.5 1700 103.6 1703.3 105.6 1711 116.4 1713.4 119.1 1716 119.1 1733 129.9 1734.3 133.9 1737 180 1739.5 274 1740 276.8 1743 655.3 1743" stroke="#ffff00" stroke-width="5.5" fill="none" stroke-linejoin="round"/>
<path d="M94.5 1680 96.2 1683.3 99.2 1700 100.2 1719.7 106.3 1719.7 107.3 1739.9 116.4 1739.9 117.4 1766.2 123.5 1767 123.5 1820.8 132.6 1822.8 148.7 1823.8 149.5 1830 193.2 1837 209.4 1841 278.1 1845 292.2 1849 302.4 1855.1 655.3 1855.5" stroke="#ff00ff" stroke-width="5.5" fill="none" stroke-linejoin="round"/>
<path d="M88.1 1596.4 90.9 1597 93.7 1622.9 94.2 1689.4 98.2 1701.5 100.2 1731.8 102.2 1754 108.3 1766.2 114.4 1772.3 122.5 1774.3 146.7 1776.3 150.8 1782.4 158.8 1784.4 162.9 1788.4 175 1794.5 177 1799.5 655.3 1800.5" stroke="#00ffff" stroke-width="5.5" fill="none" stroke-linejoin="round"/>
<path d="M89.5 1666 90.1 1668.6 138 1669 140.6 1670.5 342.8 1673.2 352.9 1675.2 390.3 1675.2 393.4 1679.6 444.9 1680.6 453 1686.7 457 1695.8 463.1 1697.8 472.2 1710 521.7 1712 572.2 1713 618.7 1714 630.9 1716 655.3 1717" stroke="#7f7f45" stroke-width="5.5" fill="none" stroke-linejoin="round"/>
<path d="M86.6 1358.6 87.1 1560 87.3 1701.5 89.1 1713.6 92.1 1737.9 94.1 1760 95.2 1802.6 120.4 1803.6 130.5 1805.6 130.5 1833.9 211.4 1833.9 211.4 1842 282.1 1842.5 371.1 1843.4 376.2 1843.4 382.2 1847.4 397.4 1847.4 397.4 1849.4 465.1 1849.4 465.1 1852.5 552 1852.5 568.2 1854.5 655.3 1855.5" stroke="#ff0000" stroke-width="5.5" fill="none" stroke-linejoin="round"/>
<rect x="495.2" y="1335.5" width="145.2" height="197.6" fill="#fff" stroke="#6a6a6a" stroke-width="1.5"/>
<path d="M500.9 1349.5H559.8" stroke="#00ff00" stroke-width="9"/>
<text x="564.6" y="1356.5" class="lg">PDO</text>
<path d="M500.9 1373.8H559.8" stroke="#000000" stroke-width="5.5"/>
<text x="564.6" y="1380.8" class="lg">IMSPDO</text>
<path d="M500.9 1398H559.8" stroke="#0000ff" stroke-width="5.5"/>
<text x="564.6" y="1405" class="lg">SA</text>
<path d="M500.9 1422.3H559.8" stroke="#ffff00" stroke-width="5.5"/>
<text x="564.6" y="1429.3" class="lg">PSO</text>
<path d="M500.9 1446.5H559.8" stroke="#ff00ff" stroke-width="5.5"/>
<text x="564.6" y="1453.5" class="lg">DE</text>
<path d="M500.9 1470.8H559.8" stroke="#00ffff" stroke-width="5.5"/>
<text x="564.6" y="1477.8" class="lg">GA</text>
<path d="M500.9 1495.1H559.8" stroke="#7f7f45" stroke-width="5.5"/>
<text x="564.6" y="1502.1" class="lg">HHO</text>
<path d="M500.9 1519.3H559.8" stroke="#ff0000" stroke-width="5.5"/>
<text x="564.6" y="1526.3" class="lg">GWO</text>
<text x="85.8" y="1884.1" class="tk" text-anchor="middle">0</text>
<text x="199.7" y="1884.1" class="tk" text-anchor="middle">200</text>
<text x="313.6" y="1884.1" class="tk" text-anchor="middle">400</text>
<text x="427.5" y="1884.1" class="tk" text-anchor="middle">600</text>
<text x="541.4" y="1884.1" class="tk" text-anchor="middle">800</text>
<text x="655.3" y="1884.1" class="tk" text-anchor="middle">1000</text>
<text x="78.5" y="1863.5" class="tk" text-anchor="end">1600</text>
<text x="78.5" y="1773.9" class="tk" text-anchor="end">1800</text>
<text x="78.5" y="1684.4" class="tk" text-anchor="end">2000</text>
<text x="78.5" y="1595" class="tk" text-anchor="end">2200</text>
<text x="78.5" y="1505.6" class="tk" text-anchor="end">2400</text>
<text x="78.5" y="1416.3" class="tk" text-anchor="end">2600</text>
<text x="78.5" y="1327" class="tk" text-anchor="end">2800</text>
<text x="375.4" y="1310.3" class="ti" text-anchor="middle">F5</text>
<text x="371.4" y="1919" class="lb" text-anchor="middle">Number of iteration</text>
<text transform="translate(11 1589.3) rotate(-90)" x="0" y="0" class="lb" text-anchor="middle" dy="9.5">Best&#160; fitness&#160; so&#160; far</text></g>
<g><rect x="907.3" y="1320.3" width="567.5" height="536.4" fill="none" stroke="#909090" stroke-width="2"/>
<path d="M907.3 1856.7v-6.5M907.3 1320.3v6.5M1020.8 1856.7v-6.5M1020.8 1320.3v6.5M1134.3 1856.7v-6.5M1134.3 1320.3v6.5M1247.8 1856.7v-6.5M1247.8 1320.3v6.5M1361.3 1856.7v-6.5M1361.3 1320.3v6.5M1474.8 1856.7v-6.5M1474.8 1320.3v6.5M907.3 1856.8h6.5M1474.8 1856.8h-6.5M907.3 1803.2h6.5M1474.8 1803.2h-6.5M907.3 1749.5h6.5M1474.8 1749.5h-6.5M907.3 1695.8h6.5M1474.8 1695.8h-6.5M907.3 1642.2h6.5M1474.8 1642.2h-6.5M907.3 1588.5h6.5M1474.8 1588.5h-6.5M907.3 1534.8h6.5M1474.8 1534.8h-6.5M907.3 1481.2h6.5M1474.8 1481.2h-6.5M907.3 1427.5h6.5M1474.8 1427.5h-6.5M907.3 1373.8h6.5M1474.8 1373.8h-6.5M907.3 1320.2h6.5M1474.8 1320.2h-6.5" stroke="#454545" stroke-width="1.1" fill="none"/>
<path d="M907 1691.6 907 1822 910 1827.8 927 1827.8 1474.8 1829" stroke="#00ff00" stroke-width="9.5" fill="none" stroke-linejoin="round"/>
<path d="M916.2 1780.6 917 1802.2 920 1806 927 1823.7 935 1829.1 960.6 1833.2 1137 1834.5 1474.8 1835" stroke="#000000" stroke-width="5.5" fill="none" stroke-linejoin="round"/>
<path d="M908.1 1363.5 910.1 1425.1 913 1436 920.2 1441 964.7 1440.3 970.8 1442 1307 1442 1308.5 1455 1312 1462 1320 1464 1400 1470 1405 1529.8 1474.8 1529.8" stroke="#0000ff" stroke-width="5.5" fill="none" stroke-linejoin="round"/>
<path d="M912.5 1812 913.5 1815.6 927 1822.4 953.9 1825 1203 1828 1474.8 1829.3" stroke="#ffff00" stroke-width="5.5" fill="none" stroke-linejoin="round"/>
<path d="M919 1709.2 920 1775 922 1786.5 931 1787.3 937.7 1813 959.3 1825 1000 1828.5 1203 1832.2 1420 1833 1421 1835.6 1474.8 1835.8" stroke="#ff00ff" stroke-width="5.5" fill="none" stroke-linejoin="round"/>
<path d="M911 1605 913.5 1612.1 914.8 1640 916.8 1681 917.5 1735 920.2 1775 922.9 1795 929.6 1813 960 1815.6 1100 1817 1450 1818 1452 1820 1474.8 1820" stroke="#00ffff" stroke-width="5.5" fill="none" stroke-linejoin="round"/>
<path d="M908.1 1451.4 909 1700 913.5 1725.3 921.6 1730.7 923.6 1740.2 929 1744.2 929.5 1772.5 933.7 1779.2 937.7 1790 944.5 1792.7 948.5 1796.8 968.7 1797.4 969.5 1811.6 978.2 1815 1061.7 1826.4 1200 1828 1203 1833.3 1474.8 1833.6" stroke="#7f7f45" stroke-width="5.5" fill="none" stroke-linejoin="round"/>
<path d="M908.1 1501.9 908.8 1802.2 913.5 1811.6 927 1817 953.9 1819.7 1034.8 1821 1100 1822.4 1474.8 1825.5" stroke="#ff0000" stroke-width="5.5" fill="none" stroke-linejoin="round"/>
<rect x="1314.8" y="1335.5" width="145.1" height="197.6" fill="#fff" stroke="#6a6a6a" stroke-width="1.5"/>
<path d="M1320.6 1349.5H1379.7" stroke="#00ff00" stroke-width="9"/>
<text x="1384.6" y="1356.5" class="lg">PDO</text>
<path d="M1320.6 1373.8H1379.7" stroke="#000000" stroke-width="5.5"/>
<text x="1384.6" y="1380.8" class="lg">IMSPDO</text>
<path d="M1320.6 1398H1379.7" stroke="#0000ff" stroke-width="5.5"/>
<text x="1384.6" y="1405" class="lg">SA</text>
<path d="M1320.6 1422.3H1379.7" stroke="#ffff00" stroke-width="5.5"/>
<text x="1384.6" y="1429.3" class="lg">PSO</text>
<path d="M1320.6 1446.5H1379.7" stroke="#ff00ff" stroke-width="5.5"/>
<text x="1384.6" y="1453.5" class="lg">DE</text>
<path d="M1320.6 1470.8H1379.7" stroke="#00ffff" stroke-width="5.5"/>
<text x="1384.6" y="1477.8" class="lg">GA</text>
<path d="M1320.6 1495.1H1379.7" stroke="#7f7f45" stroke-width="5.5"/>
<text x="1384.6" y="1502.1" class="lg">HHO</text>
<path d="M1320.6 1519.3H1379.7" stroke="#ff0000" stroke-width="5.5"/>
<text x="1384.6" y="1526.3" class="lg">GWO</text>
<text x="907.3" y="1884" class="tk" text-anchor="middle">0</text>
<text x="1020.8" y="1884" class="tk" text-anchor="middle">200</text>
<text x="1134.3" y="1884" class="tk" text-anchor="middle">400</text>
<text x="1247.8" y="1884" class="tk" text-anchor="middle">600</text>
<text x="1361.3" y="1884" class="tk" text-anchor="middle">800</text>
<text x="1474.8" y="1884" class="tk" text-anchor="middle">1000</text>
<text x="900" y="1863.5" class="tk" text-anchor="end">2200</text>
<text x="900" y="1809.9" class="tk" text-anchor="end">2400</text>
<text x="900" y="1756.2" class="tk" text-anchor="end">2600</text>
<text x="900" y="1702.5" class="tk" text-anchor="end">2800</text>
<text x="900" y="1648.9" class="tk" text-anchor="end">3000</text>
<text x="900" y="1595.2" class="tk" text-anchor="end">3200</text>
<text x="900" y="1541.5" class="tk" text-anchor="end">3400</text>
<text x="900" y="1487.9" class="tk" text-anchor="end">3600</text>
<text x="900" y="1434.2" class="tk" text-anchor="end">3800</text>
<text x="900" y="1380.5" class="tk" text-anchor="end">4000</text>
<text x="900" y="1326.9" class="tk" text-anchor="end">4200</text>
<text x="1195.5" y="1310.5" class="ti" text-anchor="middle">F6</text>
<text x="1192" y="1919.2" class="lb" text-anchor="middle">Number of iteration</text>
<text transform="translate(832.8 1589.3) rotate(-90)" x="0" y="0" class="lb" text-anchor="middle" dy="9.5">Best&#160; fitness&#160; so&#160; far</text></g>
<g><rect x="87.5" y="1953" width="567.1" height="527.5" fill="none" stroke="#909090" stroke-width="2"/>
<path d="M87.5 2480.5v-6.5M87.5 1953v6.5M200.9 2480.5v-6.5M200.9 1953v6.5M314.3 2480.5v-6.5M314.3 1953v6.5M427.8 2480.5v-6.5M427.8 1953v6.5M541.2 2480.5v-6.5M541.2 1953v6.5M654.6 2480.5v-6.5M654.6 1953v6.5M87.5 2480.5h6.5M654.6 2480.5h-6.5M87.5 2392.9h6.5M654.6 2392.9h-6.5M87.5 2305.2h6.5M654.6 2305.2h-6.5M87.5 2217.3h6.5M654.6 2217.3h-6.5M87.5 2129.3h6.5M654.6 2129.3h-6.5M87.5 2041.2h6.5M654.6 2041.2h-6.5M87.5 1953h6.5M654.6 1953h-6.5" stroke="#454545" stroke-width="1.1" fill="none"/>
<path d="M88.5 2040.1 89 2355 95 2372 101.3 2385 104 2391.1 157.3 2391.1 160.8 2396.4 188.9 2396.4 197.6 2405.1 229.2 2406 230 2421.8 654.6 2421.8" stroke="#00ff00" stroke-width="8.8" fill="none" stroke-linejoin="round"/>
<path d="M88 2300 88.5 2415 90 2422 654.6 2422.3" stroke="#000000" stroke-width="5.5" fill="none" stroke-linejoin="round"/>
<path d="M95 2368 99.5 2385 103 2407.8 106 2411.3 146.8 2411.3 146.8 2420 150 2422.4 654.6 2422.4" stroke="#0000ff" stroke-width="5.5" fill="none" stroke-linejoin="round"/>
<path d="M92.5 2230 94.3 2302.6 99.5 2311.4 110 2313 116.2 2318.4 117 2330.7 132.8 2331.5 133.5 2336.8 146.8 2336.8 149.4 2342.1 157.3 2345.6 180.1 2348.2 204.6 2350.8 211.6 2355.2 234.4 2358.7 239.7 2364.8 246.7 2368.3 264.2 2370.1 267.7 2375.3 274.7 2378 280 2385 281.7 2397.2 292.2 2402.5 299.2 2406 306.2 2409.5 309.7 2414.8 327.3 2418.3 342 2419.5 380 2422.4 654.6 2422.4" stroke="#ffff00" stroke-width="5.5" fill="none" stroke-linejoin="round"/>
<path d="M93.8 2110 95.5 2189.2 98.8 2200 99.5 2267.6 104.8 2302.6 105.5 2318.4 110 2320 113.5 2341.2 120.5 2353.4 123 2360.4 129.3 2362.2 139.8 2383.2 141.5 2392 147.7 2393 148.5 2400.7 155.6 2407.8 163.5 2413 169.6 2416.5 187.1 2418.5 220 2422.4 654.6 2422.4" stroke="#ff00ff" stroke-width="5.5" fill="none" stroke-linejoin="round"/>
<path d="M89.5 1980.3 92.1 2059.5 93.8 2084.8 95.5 2106.7 97 2108.4 103.1 2108.4 103.1 2140.4 107.3 2145.4 111.5 2149.6 117.4 2150 118.2 2165.6 121 2166.5 654.6 2166.5" stroke="#00ffff" stroke-width="5.5" fill="none" stroke-linejoin="round"/>
<path d="M88 2300 88.8 2380 90.5 2412 95 2421.5 654.6 2422.3" stroke="#7f7f45" stroke-width="5.5" fill="none" stroke-linejoin="round"/>
<path d="M88.7 1983.7 89.6 2200 89.9 2355.2 95.1 2381.5 99.5 2411.3 103 2419 106.5 2421.8 110 2422.4 654.6 2422.4" stroke="#ff0000" stroke-width="5.5" fill="none" stroke-linejoin="round"/>
<rect x="495.2" y="1967.8" width="144.3" height="194.2" fill="#fff" stroke="#6a6a6a" stroke-width="1.5"/>
<path d="M500.9 1981.5H559.8" stroke="#00ff00" stroke-width="9"/>
<text x="564.6" y="1988.5" class="lg">PDO</text>
<path d="M500.9 2005.3H559.8" stroke="#000000" stroke-width="5.5"/>
<text x="564.6" y="2012.3" class="lg">IMSPDO</text>
<path d="M500.9 2029.2H559.8" stroke="#0000ff" stroke-width="5.5"/>
<text x="564.6" y="2036.2" class="lg">SA</text>
<path d="M500.9 2053H559.8" stroke="#ffff00" stroke-width="5.5"/>
<text x="564.6" y="2060" class="lg">PSO</text>
<path d="M500.9 2076.8H559.8" stroke="#ff00ff" stroke-width="5.5"/>
<text x="564.6" y="2083.8" class="lg">DE</text>
<path d="M500.9 2100.7H559.8" stroke="#00ffff" stroke-width="5.5"/>
<text x="564.6" y="2107.7" class="lg">GA</text>
<path d="M500.9 2124.5H559.8" stroke="#7f7f45" stroke-width="5.5"/>
<text x="564.6" y="2131.5" class="lg">HHO</text>
<path d="M500.9 2148.3H559.8" stroke="#ff0000" stroke-width="5.5"/>
<text x="564.6" y="2155.3" class="lg">GWO</text>
<text x="87.5" y="2507.8" class="tk" text-anchor="middle">0</text>
<text x="200.9" y="2507.8" class="tk" text-anchor="middle">200</text>
<text x="314.3" y="2507.8" class="tk" text-anchor="middle">400</text>
<text x="427.8" y="2507.8" class="tk" text-anchor="middle">600</text>
<text x="541.2" y="2507.8" class="tk" text-anchor="middle">800</text>
<text x="654.6" y="2507.8" class="tk" text-anchor="middle">1000</text>
<text x="80.2" y="2487.2" class="tk" text-anchor="end">2520</text>
<text x="80.2" y="2399.6" class="tk" text-anchor="end">2540</text>
<text x="80.2" y="2311.9" class="tk" text-anchor="end">2560</text>
<text x="80.2" y="2224" class="tk" text-anchor="end">2580</text>
<text x="80.2" y="2136" class="tk" text-anchor="end">2600</text>
<text x="80.2" y="2047.9" class="tk" text-anchor="end">2620</text>
<text x="80.2" y="1959.7" class="tk" text-anchor="end">2640</text>
<text x="375" y="1943.5" class="ti" text-anchor="middle">F7</text>
<text x="372.5" y="2541.5" class="lb" text-anchor="middle">Number of iteration</text>
<text transform="translate(13.5 2215.7) rotate(-90)" x="0" y="0" class="lb" text-anchor="middle" dy="9.5">Best&#160; fitness&#160; so&#160; far</text></g>
<g><rect x="910.6" y="1953.6" width="557.2" height="525.7" fill="none" stroke="#909090" stroke-width="2"/>
<path d="M910.6 2479.3v-6.5M910.6 1953.6v6.5M1022 2479.3v-6.5M1022 1953.6v6.5M1133.5 2479.3v-6.5M1133.5 1953.6v6.5M1244.9 2479.3v-6.5M1244.9 1953.6v6.5M1356.4 2479.3v-6.5M1356.4 1953.6v6.5M1467.8 2479.3v-6.5M1467.8 1953.6v6.5M910.6 2479.3h6.5M1467.8 2479.3h-6.5M910.6 2427.2h6.5M1467.8 2427.2h-6.5M910.6 2375h6.5M1467.8 2375h-6.5M910.6 2322.6h6.5M1467.8 2322.6h-6.5M910.6 2270.2h6.5M1467.8 2270.2h-6.5M910.6 2217.7h6.5M1467.8 2217.7h-6.5M910.6 2165h6.5M1467.8 2165h-6.5M910.6 2112.2h6.5M1467.8 2112.2h-6.5M910.6 2059.4h6.5M1467.8 2059.4h-6.5M910.6 2006.4h6.5M1467.8 2006.4h-6.5M910.6 1953.3h6.5M1467.8 1953.3h-6.5" stroke="#454545" stroke-width="1.1" fill="none"/>
<path d="M912.5 2138.7 912.5 2476 916 2481 1467.8 2481" stroke="#00ff00" stroke-width="10.0" fill="none" stroke-linejoin="round"/>
<path d="M911.5 2420 912 2476 916 2481 1467.8 2481" stroke="#000000" stroke-width="5.5" fill="none" stroke-linejoin="round"/>
<path d="M911.5 2420 912 2476 916 2481 1467.8 2481" stroke="#0000ff" stroke-width="5.5" fill="none" stroke-linejoin="round"/>
<path d="M916.5 2405 917.6 2411.9 921 2435.5 937 2437.2 940.4 2442 942.1 2452.4 953.9 2454.1 955.5 2460 964 2461 972.4 2465.8 984.2 2467.5 992.6 2470.9 1006.1 2474.3 1022.9 2476.8 1053.2 2477.6 1100 2480.5 1467.8 2481" stroke="#ffff00" stroke-width="5.5" fill="none" stroke-linejoin="round"/>
<path d="M918 2220 919.3 2258.6 920 2368.1 925.2 2371.5 928.6 2440.6 932 2447.3 933 2464.2 937.9 2465.8 939.5 2476 945 2481 1467.8 2481" stroke="#ff00ff" stroke-width="5.5" fill="none" stroke-linejoin="round"/>
<path d="M914.4 2044.3 917.1 2111.7 918.5 2200 918.5 2256.1 926.9 2257 926.9 2262 928.6 2263 928.6 2296.5 954.7 2296.5 955.5 2326 1001.9 2326 1002.5 2332.8 1467.8 2332.8" stroke="#00ffff" stroke-width="5.5" fill="none" stroke-linejoin="round"/>
<path d="M911.7 1962.1 912 2476 916 2481 1467.8 2481" stroke="#7f7f45" stroke-width="5.5" fill="none" stroke-linejoin="round"/>
<path d="M911.5 1996.5 912.4 2250 912.6 2472.6 915 2478.5 920.2 2481 1467.8 2481" stroke="#ff0000" stroke-width="5.5" fill="none" stroke-linejoin="round"/>
<rect x="1310.7" y="1968.6" width="142.1" height="194.3" fill="#fff" stroke="#6a6a6a" stroke-width="1.5"/>
<path d="M1316.4 1982.1H1374" stroke="#00ff00" stroke-width="8.5"/>
<text x="1378.6" y="1989.1" class="lg">PDO</text>
<path d="M1316.4 2005.9H1374" stroke="#000000" stroke-width="5.5"/>
<text x="1378.6" y="2012.9" class="lg">IMSPDO</text>
<path d="M1316.4 2029.8H1374" stroke="#0000ff" stroke-width="5.5"/>
<text x="1378.6" y="2036.8" class="lg">SA</text>
<path d="M1316.4 2053.6H1374" stroke="#ffff00" stroke-width="5.5"/>
<text x="1378.6" y="2060.6" class="lg">PSO</text>
<path d="M1316.4 2077.4H1374" stroke="#ff00ff" stroke-width="5.5"/>
<text x="1378.6" y="2084.4" class="lg">DE</text>
<path d="M1316.4 2101.2H1374" stroke="#00ffff" stroke-width="5.5"/>
<text x="1378.6" y="2108.2" class="lg">GA</text>
<path d="M1316.4 2125.1H1374" stroke="#7f7f45" stroke-width="5.5"/>
<text x="1378.6" y="2132.1" class="lg">HHO</text>
<path d="M1316.4 2148.9H1374" stroke="#ff0000" stroke-width="5.5"/>
<text x="1378.6" y="2155.9" class="lg">GWO</text>
<text x="910.6" y="2506.6" class="tk" text-anchor="middle">0</text>
<text x="1022" y="2506.6" class="tk" text-anchor="middle">200</text>
<text x="1133.5" y="2506.6" class="tk" text-anchor="middle">400</text>
<text x="1244.9" y="2506.6" class="tk" text-anchor="middle">600</text>
<text x="1356.4" y="2506.6" class="tk" text-anchor="middle">800</text>
<text x="1467.8" y="2506.6" class="tk" text-anchor="middle">1000</text>
<text x="903.3" y="2486" class="tk" text-anchor="end">2700</text>
<text x="903.3" y="2433.9" class="tk" text-anchor="end">2710</text>
<text x="903.3" y="2381.7" class="tk" text-anchor="end">2720</text>
<text x="903.3" y="2329.3" class="tk" text-anchor="end">2730</text>
<text x="903.3" y="2276.9" class="tk" text-anchor="end">2740</text>
<text x="903.3" y="2224.4" class="tk" text-anchor="end">2750</text>
<text x="903.3" y="2171.7" class="tk" text-anchor="end">2760</text>
<text x="903.3" y="2118.9" class="tk" text-anchor="end">2770</text>
<text x="903.3" y="2066.1" class="tk" text-anchor="end">2780</text>
<text x="903.3" y="2013.1" class="tk" text-anchor="end">2790</text>
<text x="903.3" y="1960" class="tk" text-anchor="end">2800</text>
<text x="1193.7" y="1943.5" class="ti" text-anchor="middle">F8</text>
<text x="1190.1" y="2541.5" class="lb" text-anchor="middle">Number of iteration</text>
<text transform="translate(837.3 2216.1) rotate(-90)" x="0" y="0" class="lb" text-anchor="middle" dy="9.5">Best&#160; fitness&#160; so&#160; far</text></g>
</svg>
</body></html>
